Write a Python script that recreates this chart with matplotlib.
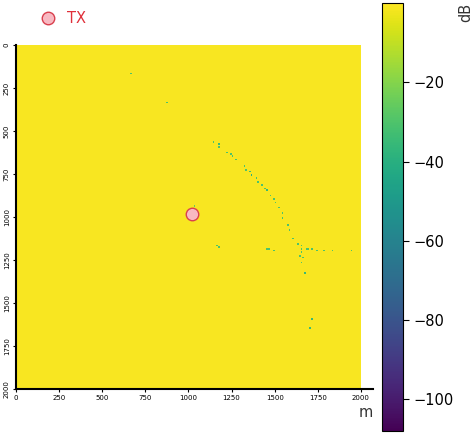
# 電波強度マップ（dB）と送信機位置の表示
import numpy as np
import matplotlib.pyplot as plt

# マップの大きさ [m] とセルの大きさ
size_m = 2000
cell = 10

# 背景の受信強度 [dB]
background = -1.0

# 強度が落ちている点 (x [m], y [m], dB)
pts_x = [661, 870, 1148, 1171, 1177, 1223, 1241, 1258, 1275, 1328, 1339, 1357,
         1368, 1391, 1409, 1426, 1443, 1455, 1478, 1496, 1507, 1525, 1542, 1548,
         1571, 1583, 1606, 1635, 1652, 1658, 1658, 1641, 1664, 1658, 1675,
         1681, 1699, 1716, 1745, 1780, 1838, 1942,
         1455, 1467, 1490, 1038, 1165, 1171, 1710, 1704]
pts_y = [169, 337, 564, 570, 593, 628, 634, 645, 663, 709, 727, 738,
         756, 773, 797, 814, 837, 849, 872, 895, 913, 942, 971, 1000,
         1047, 1076, 1122, 1157, 1169, 1186, 1209, 1221, 1238, 1267, 1326,
         1186, 1186, 1186, 1192, 1192, 1192, 1198,
         1180, 1180, 1192, 936, 1169, 1174, 1599, 1645]
pts_db = [-30, -30, -30, -35, -30, -30, -30, -30, -30, -30, -30, -35,
          -40, -30, -30, -30, -30, -35, -30, -30, -30, -30, -30, -30,
          -30, -30, -30, -30, -30, -30, -30, -30, -30, -30, -35,
          -30, -30, -30, -30, -30, -30, -30,
          -30, -30, -30, -25, -30, -30, -35, -35]

# 送信機の位置
tx_x = 1020
tx_y = 983

# 色の範囲
vmin = -108
vmax = 0

# グリッドを作る
n = size_m // cell
grid = np.full((n, n), background)
for i in range(len(pts_x)):
    r = int(pts_y[i] / cell)
    c = int(pts_x[i] / cell)
    grid[r, c] = pts_db[i]

fig = plt.figure(figsize=(4.74, 4.37), dpi=100)
ax = fig.add_axes([16 / 474, 48 / 437, 357 / 474, 344 / 437])

im = ax.imshow(grid, cmap="viridis", vmin=vmin, vmax=vmax, origin="upper",
               extent=[0, size_m, size_m, 0], interpolation="nearest")
ax.set_xlim(0, 2070)
ax.set_ylim(size_m, 0)
ax.set_aspect("auto")

ax.plot(tx_x, tx_y, "o", markersize=9, markerfacecolor="#f8b9c2",
        markeredgecolor="#d9404e", markeredgewidth=1, label="TX")

ticks = [0, 250, 500, 750, 1000, 1250, 1500, 1750, 2000]
ax.set_xticks(ticks)
ax.set_yticks(ticks)
ax.tick_params(labelsize=5, length=2.5, width=0.8, pad=2)
for lab in ax.get_yticklabels():
    lab.set_rotation(90)
    lab.set_va("center")

ax.spines["top"].set_visible(False)
ax.spines["right"].set_visible(False)
ax.spines["left"].set_linewidth(1.5)
ax.spines["bottom"].set_linewidth(1.5)

ax.set_xlabel("m", loc="right", fontsize=10.5, color="#333333", labelpad=3)

leg = ax.legend(loc="lower left", bbox_to_anchor=(0.05, 1.055), frameon=False,
                fontsize=10.5, labelcolor="#e0303a", handletextpad=0.3,
                borderaxespad=0, borderpad=0)

# カラーバー
cax = fig.add_axes([382 / 474, 6 / 437, 21 / 474, 428 / 437])
cb = fig.colorbar(im, cax=cax)
cb.set_ticks([-20, -40, -60, -80, -100])
cb.ax.tick_params(labelsize=10.5, length=4, width=0.8)
fig.text(466 / 474, 1 - 12 / 437, "dB", rotation=90, fontsize=10.5,
         ha="center", va="center", color="#333333")

fig.savefig("out.png", dpi=100)
